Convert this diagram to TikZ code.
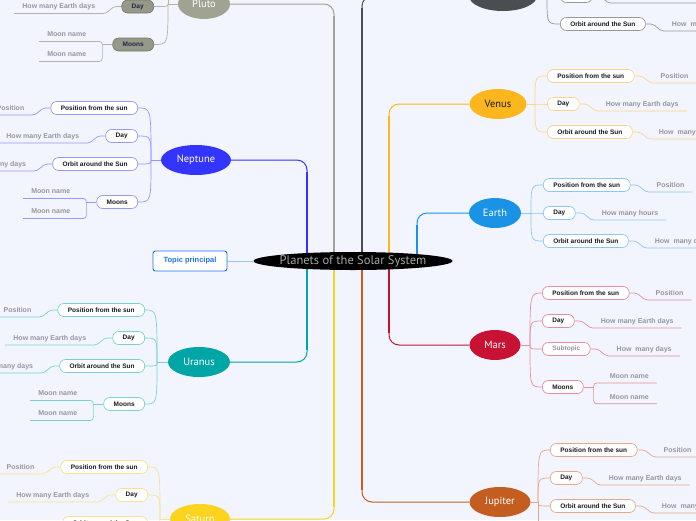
\documentclass[tikz,border=0pt]{standalone}
\usepackage{fontspec}
\setmainfont{Liberation Sans}
\newfontfamily\planetfont{PT Sans}
\usepackage{tikz}
\usetikzlibrary{positioning,shapes.geometric,calc}
\definecolor{bgpage}{RGB}{242,245,254}
\definecolor{textdark}{RGB}{25,25,35}
\definecolor{leafgray}{RGB}{150,150,160}
\definecolor{rootgray}{RGB}{165,165,165}
\definecolor{topicblue}{RGB}{30,115,232}
\definecolor{topicl}{RGB}{150,200,240}
\definecolor{neptune}{RGB}{52,52,255}
\definecolor{neptunel}{RGB}{150,150,255}
\definecolor{uranus}{RGB}{0,166,166}
\definecolor{uranusl}{RGB}{120,210,212}
\definecolor{saturn}{RGB}{250,212,30}
\definecolor{saturnl}{RGB}{250,226,140}
\definecolor{pluto}{RGB}{160,163,145}
\definecolor{plutol}{RGB}{178,180,168}
\definecolor{plutofill}{RGB}{150,152,136}
\definecolor{plutotext}{RGB}{30,40,70}
\definecolor{mercury}{RGB}{74,78,80}
\definecolor{mercuryl}{RGB}{150,152,156}
\definecolor{venus}{RGB}{253,183,28}
\definecolor{venusl}{RGB}{253,212,140}
\definecolor{earth}{RGB}{26,146,230}
\definecolor{earthl}{RGB}{140,198,242}
\definecolor{mars}{RGB}{200,18,52}
\definecolor{marsl}{RGB}{232,140,158}
\definecolor{jupiter}{RGB}{196,94,32}
\definecolor{jupiterl}{RGB}{230,168,136}
\pgfdeclarelayer{links}
\pgfsetlayers{links,main}

\tikzset{
  rootnode/.style={ellipse, fill=black, minimum width=199pt, minimum height=18pt, inner xsep=-3pt, inner ysep=0pt, text=rootgray, font=\planetfont\fontsize{12.5}{14}\selectfont},
  topicbox/.style={rectangle, rounded corners=2.5pt, draw=topicblue, line width=0.9pt, fill=white, minimum width=74pt, minimum height=20pt, inner sep=0pt, text=topicblue, font=\fontsize{7.5}{9}\selectfont\bfseries},
  planet/.style={ellipse, inner sep=0pt, minimum height=30pt, text=white, font=\planetfont\fontsize{10.5}{12}\selectfont},
  subbox/.style={rectangle, rounded corners=6pt, draw=#1, fill=white, line width=0.7pt, minimum height=13pt, minimum width=31pt, inner xsep=10pt, inner ysep=0pt, text=textdark, font=\fontsize{6.5}{8}\selectfont\bfseries},
  plutobox/.style={subbox=plutofill!80!black, fill=plutofill, text=plutotext},
  leaf/.style={inner xsep=8pt, inner ysep=1.5pt, text depth=3pt, text=leafgray, font=\fontsize{7}{8}\selectfont\bfseries},
  link/.style={draw=#1, line width=0.7pt},
  trunk/.style={draw=#1, line width=1pt, rounded corners=10pt},
}

\begin{document}
\begin{tikzpicture}[x=1pt, y=-1pt]
\useasboundingbox (0,0) rectangle (696,520);

% centre
\node[rootnode] (root) at (353,261) {Planets of the Solar System};
\node[topicbox] (topic) at (190,261) {Topic principal};

% Pluto
\node[planet, fill=pluto, minimum width=52pt] (plu) at (204,4) {Pluto};
\node[plutobox, anchor=east] (plud) at (154,6.5) {Day};
\node[plutobox, anchor=east] (plum) at (154,44.5) {Moons};
\node[leaf, anchor=south east] (plud1) at ($(plud.west)+(-18,7)$) {How many Earth days};
\node[leaf, anchor=south east] (plum1) at ($(plum.west)+(-18,-3)$) {Moon name};
\node[leaf, anchor=south east] (plum2) at ($(plum.west)+(-18,17)$) {Moon name};
\coordinate (plub) at (168,4);
\coordinate (plutop) at (168,-30);
\coordinate (plumb) at ($(plum.west)+(-10,0)$);

% Neptune
\node[planet, fill=neptune, minimum width=70pt] (nep) at (196,160) {Neptune};
\node[subbox=neptunel, anchor=east] (nepp) at (138,108) {Position from the sun};
\node[subbox=neptunel, anchor=east] (nepd) at (138,136) {Day};
\node[subbox=neptunel, anchor=east] (nepo) at (138,164) {Orbit around the Sun};
\node[subbox=neptunel, anchor=east] (nepm) at (138,202) {Moons};
\node[leaf, anchor=south east] (nepp1) at ($(nepp.west)+(-18,7)$) {Position};
\node[leaf, anchor=south east] (nepd1) at ($(nepd.west)+(-18,7)$) {How many Earth days};
\node[leaf, anchor=south east] (nepo1) at ($(nepo.west)+(-18,7)$) {How\ \ many days};
\node[leaf, anchor=south east] (nepm1) at ($(nepm.west)+(-18,-3.5)$) {Moon name};
\node[leaf, anchor=south east] (nepm2) at ($(nepm.west)+(-18,16.5)$) {Moon name};
\coordinate (nepb) at (151,160);
\coordinate (nepmb) at ($(nepm.west)+(-10,0)$);

% Uranus
\node[planet, fill=uranus, minimum width=62pt] (ura) at (199,362) {Uranus};
\node[subbox=uranusl, anchor=east] (urap) at (145,310) {Position from the sun};
\node[subbox=uranusl, anchor=east] (urad) at (145,338) {Day};
\node[subbox=uranusl, anchor=east] (urao) at (145,366) {Orbit around the Sun};
\node[subbox=uranusl, anchor=east] (uram) at (145,404) {Moons};
\node[leaf, anchor=south east] (urap1) at ($(urap.west)+(-18,7)$) {Position};
\node[leaf, anchor=south east] (urad1) at ($(urad.west)+(-18,7)$) {How many Earth days};
\node[leaf, anchor=south east] (urao1) at ($(urao.west)+(-18,7)$) {How\ \ many days};
\node[leaf, anchor=south east] (uram1) at ($(uram.west)+(-18,-3.5)$) {Moon name};
\node[leaf, anchor=south east] (uram2) at ($(uram.west)+(-18,16.5)$) {Moon name};
\coordinate (urab) at (157,362);
\coordinate (uramb) at ($(uram.west)+(-10,0)$);

% Saturn
\node[planet, fill=saturn, minimum width=60pt] (sat) at (200,519) {Saturn};
\node[subbox=saturnl, anchor=east] (satp) at (148,467) {Position from the sun};
\node[subbox=saturnl, anchor=east] (satd) at (148,495) {Day};
\node[subbox=saturnl, anchor=east] (sato) at (148,523) {Orbit around the Sun};
\node[leaf, anchor=south east] (satp1) at ($(satp.west)+(-18,7)$) {Position};
\node[leaf, anchor=south east] (satd1) at ($(satd.west)+(-18,7)$) {How many Earth days};
\coordinate (satb) at (160,519);

% Mercury
\node[planet, fill=mercury, minimum width=68pt] (mer) at (503,-4) {Mercury};
\node[subbox=mercuryl, anchor=west] (merd) at (560,-4) {Day};
\node[subbox=mercuryl, anchor=west] (mero) at (560,24) {Orbit around the Sun};
\node[leaf, anchor=south west] (merd1) at ($(merd.east)+(18,7)$) {How many Earth days};
\node[leaf, anchor=south west] (mero1) at ($(mero.east)+(18,7)$) {How\ \ many days};
\coordinate (merb) at (547,-4);
\coordinate (mertop) at (547,-40);

% Venus
\node[planet, fill=venus, text=textdark, minimum width=57pt] (ven) at (498,104) {Venus};
\node[subbox=venusl, anchor=west] (venp) at (547,76) {Position from the sun};
\node[subbox=venusl, anchor=west] (vend) at (547,104) {Day};
\node[subbox=venusl, anchor=west] (veno) at (547,132) {Orbit around the Sun};
\node[leaf, anchor=south west] (venp1) at ($(venp.east)+(18,7)$) {Position};
\node[leaf, anchor=south west] (vend1) at ($(vend.east)+(18,7)$) {How many Earth days};
\node[leaf, anchor=south west] (veno1) at ($(veno.east)+(18,7)$) {How\ \ many days};
\coordinate (venb) at (535,104);

% Earth
\node[planet, fill=earth, minimum width=52pt] (ear) at (495,213) {Earth};
\node[subbox=earthl, anchor=west] (earp) at (543,185) {Position from the sun};
\node[subbox=earthl, anchor=west] (eard) at (543,213) {Day};
\node[subbox=earthl, anchor=west] (earo) at (543,241) {Orbit around the Sun};
\node[leaf, anchor=south west] (earp1) at ($(earp.east)+(18,7)$) {Position};
\node[leaf, anchor=south west] (eard1) at ($(eard.east)+(18,7)$) {How many hours};
\node[leaf, anchor=south west] (earo1) at ($(earo.east)+(18,7)$) {How\ \ many days};
\coordinate (earb) at (531,213);

% Mars
\node[planet, fill=mars, minimum width=51pt] (mar) at (495,345) {Mars};
\node[subbox=marsl, anchor=west] (marp) at (542,293) {Position from the sun};
\node[subbox=marsl, anchor=west] (mard) at (542,321) {Day};
\node[subbox=marsl, anchor=west, text=leafgray] (mars) at (542,349) {Subtopic};
\node[subbox=marsl, anchor=west] (marm) at (542,387) {Moons};
\node[leaf, anchor=south west] (marp1) at ($(marp.east)+(18,7)$) {Position};
\node[leaf, anchor=south west] (mard1) at ($(mard.east)+(18,7)$) {How many Earth days};
\node[leaf, anchor=south west] (mars1) at ($(mars.east)+(18,7)$) {How\ \ many days};
\node[leaf, anchor=south west] (marm1) at ($(marm.east)+(18,-4)$) {Moon name};
\node[leaf, anchor=south west] (marm2) at ($(marm.east)+(18,16.7)$) {Moon name};
\coordinate (marb) at (530,345);
\coordinate (marmb) at ($(marm.east)+(10,0)$);

% Jupiter
\node[planet, fill=jupiter, minimum width=61pt] (jup) at (500,502) {Jupiter};
\node[subbox=jupiterl, anchor=west] (jupp) at (550,450) {Position from the sun};
\node[subbox=jupiterl, anchor=west] (jupd) at (550,478) {Day};
\node[subbox=jupiterl, anchor=west] (jupo) at (550,506) {Orbit around the Sun};
\node[leaf, anchor=south west] (jupp1) at ($(jupp.east)+(18,7)$) {Position};
\node[leaf, anchor=south west] (jupd1) at ($(jupd.east)+(18,7)$) {How many Earth days};
\node[leaf, anchor=south west] (jupo1) at ($(jupo.east)+(18,7)$) {How\ \ many days};
\coordinate (jupb) at (538,502);
\coordinate (jupbot) at (538,540);

\begin{pgfonlayer}{links}
  \fill[bgpage] (0,0) rectangle (696,520);
  \draw[link=topicl] (topic) -- (root);

  % trunks from the centre
  \draw[trunk=pluto] ($(root.center)+(-19,0)$) |- (plu.east);
  \draw[trunk=neptune] ($(root.center)+(-46,0)$) |- (nep.east);
  \draw[trunk=uranus] ($(root.center)+(-46,0)$) |- (ura.east);
  \draw[trunk=saturn] ($(root.center)+(-19,0)$) |- (sat.east);
  \draw[trunk=mercury] ($(root.center)+(9,0)$) |- (mer.west);
  \draw[trunk=venus] ($(root.center)+(36,0)$) |- (ven.west);
  \draw[trunk=earth] ($(root.center)+(64,0)$) |- (ear.west);
  \draw[trunk=mars] ($(root.center)+(36,0)$) |- (mar.west);
  \draw[trunk=jupiter] ($(root.center)+(9,0)$) |- (jup.west);
  \draw[pluto, line width=2.2pt] ($(root.center)+(-19,0)$) -- ($(plu.east -| root.center)+(-19,12)$);
  \draw[neptune, line width=2.2pt] ($(root.center)+(-46,0)$) -- ($(nep.east -| root.center)+(-46,12)$);
  \draw[uranus, line width=2.2pt] ($(root.center)+(-46,0)$) -- ($(ura.east -| root.center)+(-46,-12)$);
  \draw[saturn, line width=2.2pt] ($(root.center)+(-19,0)$) -- ($(sat.east -| root.center)+(-19,-12)$);
  \draw[mercury, line width=2.2pt] ($(root.center)+(9,0)$) -- ($(mer.west -| root.center)+(9,12)$);
  \draw[venus, line width=2.2pt] ($(root.center)+(36,0)$) -- ($(ven.west -| root.center)+(36,12)$);
  \draw[earth, line width=2.2pt] ($(root.center)+(64,0)$) -- ($(ear.west -| root.center)+(64,12)$);
  \draw[mars, line width=2.2pt] ($(root.center)+(36,0)$) -- ($(mar.west -| root.center)+(36,-12)$);
  \draw[jupiter, line width=2.2pt] ($(root.center)+(9,0)$) -- ($(jup.west -| root.center)+(9,-12)$);

  % left side: planet to subtopics
  \draw[link=plutol] (plu.west) -- (plub) -- (plutop);
  \foreach \c in {plud,plum}
    \draw[link=plutol] (plub) .. controls (plub |- \c.east) .. (\c.east);
  \draw[link=neptunel] (nep.west) -- (nepb);
  \foreach \c in {nepp,nepd,nepo,nepm}
    \draw[link=neptunel] (nepb) .. controls (nepb |- \c.east) .. (\c.east);
  \draw[link=uranusl] (ura.west) -- (urab);
  \foreach \c in {urap,urad,urao,uram}
    \draw[link=uranusl] (urab) .. controls (urab |- \c.east) .. (\c.east);
  \draw[link=saturnl] (sat.west) -- (satb);
  \foreach \c in {satp,satd,sato}
    \draw[link=saturnl] (satb) .. controls (satb |- \c.east) .. (\c.east);

  % left side: subtopics to leaves
  \foreach \b/\l/\col in {plud/plud1/plutol, nepp/nepp1/neptunel, nepd/nepd1/neptunel, nepo/nepo1/neptunel,
      urap/urap1/uranusl, urad/urad1/uranusl, urao/urao1/uranusl, satp/satp1/saturnl, satd/satd1/saturnl}
    \draw[link=\col] (\b.west) -- ++(-5,0) .. controls +(-5,0) and +(5,0) .. (\l.south east) -- (\l.south west);
  \draw[link=plutol] (plum.west) -- (plumb);
  \draw[link=neptunel] (nepm.west) -- (nepmb);
  \draw[link=uranusl] (uram.west) -- (uramb);
  \foreach \m/\l/\col in {plumb/plum1/plutol, plumb/plum2/plutol, nepmb/nepm1/neptunel, nepmb/nepm2/neptunel,
      uramb/uram1/uranusl, uramb/uram2/uranusl}
    \draw[link=\col, rounded corners=3pt] (\m) |- (\l.south east) -- (\l.south west);

  % right side: planet to subtopics
  \draw[link=mercuryl] (mer.east) -- (merb) -- (mertop);
  \foreach \c in {merd,mero}
    \draw[link=mercuryl] (merb) .. controls (merb |- \c.west) .. (\c.west);
  \draw[link=venusl] (ven.east) -- (venb);
  \foreach \c in {venp,vend,veno}
    \draw[link=venusl] (venb) .. controls (venb |- \c.west) .. (\c.west);
  \draw[link=earthl] (ear.east) -- (earb);
  \foreach \c in {earp,eard,earo}
    \draw[link=earthl] (earb) .. controls (earb |- \c.west) .. (\c.west);
  \draw[link=marsl] (mar.east) -- (marb);
  \foreach \c in {marp,mard,mars,marm}
    \draw[link=marsl] (marb) .. controls (marb |- \c.west) .. (\c.west);
  \draw[link=jupiterl] (jup.east) -- (jupb) -- (jupbot);
  \foreach \c in {jupp,jupd,jupo}
    \draw[link=jupiterl] (jupb) .. controls (jupb |- \c.west) .. (\c.west);

  % right side: subtopics to leaves
  \foreach \b/\l/\col in {merd/merd1/mercuryl, mero/mero1/mercuryl, venp/venp1/venusl, vend/vend1/venusl,
      veno/veno1/venusl, earp/earp1/earthl, eard/eard1/earthl, earo/earo1/earthl, marp/marp1/marsl,
      mard/mard1/marsl, mars/mars1/marsl, jupp/jupp1/jupiterl, jupd/jupd1/jupiterl, jupo/jupo1/jupiterl}
    \draw[link=\col] (\b.east) -- ++(5,0) .. controls +(5,0) and +(-5,0) .. (\l.south west) -- (\l.south east);
  \draw[link=marsl] (marm.east) -- (marmb);
  \foreach \l in {marm1,marm2}
    \draw[link=marsl, rounded corners=3pt] (marmb) |- (\l.south west) -- (\l.south east);
\end{pgfonlayer}
\end{tikzpicture}
\end{document}
